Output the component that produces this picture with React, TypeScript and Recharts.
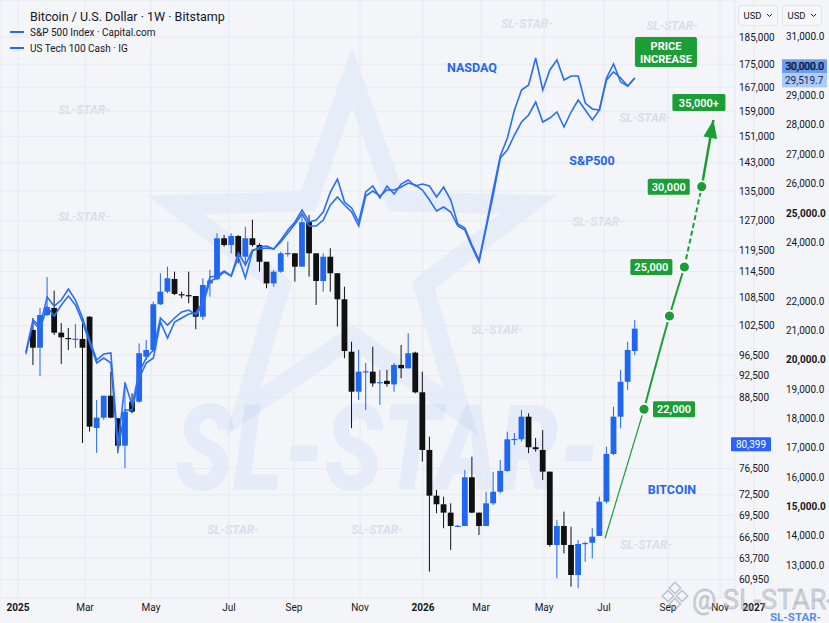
import React from "react";
import {
  ComposedChart,
  Bar,
  Line,
  XAxis,
  YAxis,
  CartesianGrid,
  ReferenceLine,
  ReferenceDot,
} from "recharts";

const FONT = "Roboto, 'Liberation Sans', Arial, sans-serif";
const BG = "#f3f5f9";
const BLUE = "#1f66f0";
const LINE_BLUE = "#2a6ef2";
const BLACK = "#111111";
const GREEN = "#1b9e36";
const TEXT = "#131722";

// ---------- Bitcoin weekly candles (USD), week 0 = first candle ----------
const btcOpen = [
  101590, 97970, 104740, 106260, 101030, 99930, 99620, 99730, 104380, 83130,
  84900, 88800, 84800, 80170, 87730, 87730, 96180, 97510, 107070, 109870,
  112760, 109300, 109100, 108900, 104380, 111750, 112690, 122550, 120880, 123120,
  118010, 122550, 120880, 116800, 111750, 114460, 118760, 118840, 115630, 126750,
  118840, 112290, 118010, 114090, 108170, 97170, 89530, 93220, 93280, 91220,
  91550, 90880, 94570, 93920, 96980, 89420, 79470, 72370, 71110, 69900,
  68000, 68020, 75150, 69900, 68020, 71250, 72960, 76130, 81180, 81220,
  85070, 79910, 79470, 76020, 65430, 68020, 65430, 61530, 65610, 65730,
  66650, 71490, 78820, 85070, 91370, 97310,
];
const btcHigh = [
  104110, 106260, 113220, 110090, 103050, 102000, 102840, 104380, 104530, 88040,
  88800, 93280, 84800, 91390, 89230, 98840, 99520, 107650, 114090, 115630,
  114460, 109870, 114460, 108900, 112920, 114860, 123800, 123370, 123800, 123370,
  125490, 127300, 121300, 116800, 114860, 119240, 121700, 118840, 129040, 128510,
  118840, 118840, 120070, 114090, 110990, 99180, 97510, 94950, 98170, 93610,
  93610, 94950, 98510, 100900, 97170, 93280, 81660, 73220, 72220, 71250,
  68150, 76280, 78390, 69900, 72960, 75990, 77860, 82490, 82270, 86250,
  85660, 81440, 82770, 76020, 68870, 70050, 67920, 66110, 65870, 67700,
  72220, 80010, 86830, 93610, 99180, 103690,
];
const btcLow = [
  94570, 92460, 104530, 100550, 94760, 97510, 97910, 80620, 82510, 78990,
  84510, 84800, 78940, 76550, 85670, 87550, 95540, 97170, 106920, 109510,
  109120, 108400, 107290, 101730, 103690, 108750, 112520, 120450, 118840, 116420,
  116420, 120450, 114460, 110630, 110990, 114220, 118010, 112140, 115630, 113290,
  106920, 109870, 109870, 102270, 95870, 83080, 88040, 86250, 90450, 87140,
  90450, 89530, 92030, 93920, 89230, 77590, 61950, 69820, 67700, 64760,
  67900, 68020, 69820, 66780, 68020, 71010, 72720, 76020, 80290, 80840,
  78940, 79200, 74740, 65200, 61120, 64310, 60080, 59890, 63220, 63670,
  66650, 71250, 78650, 83080, 89850, 96500,
];
const btcClose = [
  97970, 104740, 106480, 101030, 100070, 99830, 99780, 97970, 83350, 84900,
  88800, 84900, 80170, 85950, 85950, 96860, 97510, 107070, 109870, 112920,
  109360, 109050, 108900, 104380, 111380, 112360, 122550, 120880, 123120, 118010,
  122550, 120880, 116800, 111750, 114460, 118840, 118910, 115630, 126660, 118840,
  112290, 118010, 114090, 108170, 97310, 89530, 93280, 93340, 91070, 91310,
  90940, 94570, 93920, 96860, 89420, 79470, 72370, 71110, 69900, 68020,
  68050, 75150, 69900, 68020, 71250, 72960, 76130, 81220, 81280, 85070,
  79910, 79590, 76020, 65430, 68020, 65430, 61530, 65560, 65690, 66550,
  71490, 78820, 85070, 91370, 97510, 101860,
];

// ---------- Index lines (USD scale), week -1 .. 85 ----------
const sp500 = [
  20193, 21284, 21046, 21796, 21489, 21864, 22171, 21864, 21284, 20568,
  19887, 20057, 19887, 16921, 18284, 18284, 19375, 19887, 20057, 21284,
  20739, 21284, 21421, 21557, 21591, 21966, 22818, 22852, 23023, 22852,
  23500, 22784, 23705, 23841, 23875, 23773, 24012, 24318, 24625, 24966,
  24557, 24557, 24762, 25273, 25546, 25273, 25034, 24557, 25580, 25750,
  25580, 25784, 25784, 25886, 26023, 25955, 25784, 25443, 25068, 25205,
  25034, 24557, 24421, 23841, 23330, 24489, 25614, 26875, 27148, 27659,
  28102, 28341, 28784, 28102, 28239, 28443, 27932, 28443, 28852, 28511,
  28171, 28511, 29534, 29807, 29602, 29330, 29602,
];
const nasdaq = [
  20262, 21353, 21148, 22137, 21830, 22034, 22409, 22034, 21421, 20671,
  19989, 20193, 20228, 17091, 19205, 18455, 19580, 20057, 20330, 21421,
  21182, 21421, 21625, 21693, 21523, 21864, 22682, 22784, 22989, 22852,
  23637, 23227, 23739, 23773, 23807, 23773, 24080, 24421, 24693, 25102,
  24693, 24762, 25034, 25716, 26159, 25375, 25171, 24693, 25716, 25921,
  25512, 25921, 25648, 25989, 26125, 25921, 25989, 25921, 25546, 25886,
  25443, 24625, 24489, 23909, 23398, 24557, 25784, 26943, 27557, 28511,
  29193, 29364, 30284, 29193, 29875, 30216, 29534, 29670, 29670, 28750,
  28546, 28511, 29602, 30080, 29466, 29330, 29602,
];

// ---------- axes ----------
const xTickWeeks = [-2.12, 7.34, 16.67, 27.68, 36.86, 46.19, 55.08, 63.28, 72.18, 80.65, 89.69, 97.03, 101.84];
const xTickLabels = ["2025", "Mar", "May", "Jul", "Sep", "Nov", "2026", "Mar", "May", "Jul", "Sep", "Nov", "2027"];
const btcTicks = [
  185000, 175000, 167000, 159000, 151000, 143000, 135000, 127000, 119500, 114500,
  108500, 102500, 96500, 92500, 88500, 76500, 72500, 69500, 66500, 63700, 60950,
];
const usdTicks = [
  31000, 30000, 29000, 28000, 27000, 26000, 25000, 24000, 22000, 21000,
  20000, 19000, 18000, 17000, 16000, 15000, 14000, 13000,
];
const usdBoldTicks = [25000, 20000, 15000];
const btcLastPrice = 80399;
const usdLastValues = [30000, 29519.7];
const usdLastColors = ["#6d9cf0", "#aecaf6"];

// ---------- projection drawing ----------
const projWeeks = [80.8, 86.3, 89.9, 92.0, 94.45, 96.1];
const projValues = [66335, 86375, 104530, 115560, 136190, 156100];
const projLabels = ["", "22,000", "", "25,000", "30,000", "35,000+"];
const projSides = ["none", "right", "none", "left", "left", "top"];

// ---------- text annotations ----------
const noteWeeks = [62.0, 78.95, 90.25];
const noteValues = [173990, 143840, 73220];
const noteTexts = ["NASDAQ", "S&P500", "BITCOIN"];
const priceIncreaseAt = { w: 89.4, v: 179410 };

const candles = btcOpen.map((o, i) => ({ w: i, o, h: btcHigh[i], l: btcLow[i], c: btcClose[i] }));
const spData = sp500.map((v, i) => ({ w: i - 1, v }));
const ndData = nasdaq.map((v, i) => ({ w: i - 1, v }));
const proj = projWeeks.map((w, i) => ({ w, v: projValues[i], label: projLabels[i], side: projSides[i] }));
const seg1 = proj.slice(0, 2);
const seg2 = proj.slice(1, 4);
const seg3 = proj.slice(3, 5);
const seg4 = proj.slice(4, 6);
const projDots = proj.slice(1, 5);

const fmtInt = (v: number) => v.toLocaleString("en-US");
const fmtDec = (v: number) => v.toLocaleString("en-US", { minimumFractionDigits: 1, maximumFractionDigits: 1 });

const Candle = (props: any) => {
  const { x, y, width, height } = props;
  const d = props.payload || props;
  if (x == null || y == null || d == null || d.h == null) return null;
  const cx = x + width / 2;
  const top = Math.min(y, y + height);
  const bot = Math.max(y, y + height);
  const lh = Math.log(d.h);
  const ll = Math.log(d.l);
  const span = lh - ll || 1;
  const py = (v: number) => top + ((lh - Math.log(v)) / span) * (bot - top);
  const up = d.c >= d.o;
  const color = up ? BLUE : BLACK;
  const bt = py(Math.max(d.o, d.c));
  const bb = py(Math.min(d.o, d.c));
  return (
    <g>
      <line x1={cx} x2={cx} y1={top} y2={bot} stroke={color} strokeWidth={1} />
      <rect x={cx - 2.9} width={5.8} y={bt} height={Math.max(1.2, bb - bt)} fill={color} />
    </g>
  );
};

const XTick = (p: any) => {
  const i = xTickWeeks.indexOf(p.payload.value);
  const lbl = xTickLabels[i] ?? "";
  const bold = /^\d{4}$/.test(lbl);
  return (
    <text x={p.x} y={p.y} dy={13} textAnchor="middle" fontSize={10} fontWeight={bold ? 700 : 400} fill={TEXT} fontFamily={FONT}>
      {lbl}
    </text>
  );
};

const BtcTick = (p: any) => (
  <text x={p.x} y={p.y} dy={3.5} textAnchor="start" fontSize={10} fill={TEXT} fontFamily={FONT}>
    {fmtInt(p.payload.value)}
  </text>
);

const UsdTick = (p: any) => (
  <text
    x={p.x}
    y={p.y}
    dy={3.5}
    textAnchor="start"
    fontSize={10}
    fontWeight={usdBoldTicks.includes(p.payload.value) ? 700 : 400}
    fill={TEXT}
    fontFamily={FONT}
  >
    {fmtDec(p.payload.value)}
  </text>
);

const GreenDot = (p: any) => {
  const { cx, cy, payload, index } = p;
  if (cx == null || cy == null) return <g key={`gd${index}`} />;
  const lbl = payload?.label;
  const side = payload?.side;
  let box: any = null;
  if (lbl) {
    const w = 42;
    const h = 16;
    const bx = side === "right" ? cx + 9 : cx - 12 - w;
    box = (
      <g>
        <rect x={bx} y={cy - h / 2} width={w} height={h} rx={1.5} fill={GREEN} />
        <text x={bx + w / 2} y={cy + 4} textAnchor="middle" fontSize={11} fontWeight={600} fill="#fff" fontFamily={FONT}>
          {lbl}
        </text>
      </g>
    );
  }
  return (
    <g key={`gd${index}`}>
      {box}
      <circle cx={cx} cy={cy} r={5.5} fill={GREEN} stroke="#ffffff" strokeWidth={1.8} />
    </g>
  );
};

const Watermarks = () => {
  const small = [
    [84, 110], [84, 217], [527, 24], [672, 26], [645, 118], [598, 222],
    [497, 330], [377, 530], [233, 530], [646, 545],
  ];
  const cx = 352, cy = 262, R = 185, r = 75;
  const pts: string[] = [];
  for (let k = 0; k < 10; k++) {
    const a = -Math.PI / 2 + (k * Math.PI) / 5;
    const rad = k % 2 === 0 ? R : r;
    pts.push(`${cx + rad * Math.cos(a)},${cy + rad * Math.sin(a)}`);
  }
  return (
    <svg width={829} height={623} style={{ position: "absolute", left: 0, top: 0 }}>
      <polygon points={pts.join(" ")} fill="none" stroke="rgba(40,110,240,0.06)" strokeWidth={20} strokeLinejoin="miter" />
      <text
        x={175}
        y={490}
        fontSize={120}
        fontWeight={900}
        fontStyle="italic"
        fontFamily={FONT}
        fill="rgba(40,110,240,0.065)"
        textLength={425}
        lengthAdjust="spacingAndGlyphs"
      >
        SL-STAR-
      </text>
      {small.map(([x, y], i) => (
        <text
          key={i}
          x={x}
          y={y + 4}
          textAnchor="middle"
          fontSize={12}
          fontWeight={700}
          fontStyle="italic"
          fontFamily={FONT}
          fill="#d8dfec"
        >
          SL-STAR-
        </text>
      ))}
    </svg>
  );
};

const UsdButton = ({ left }: { left: number }) => (
  <div
    style={{
      position: "absolute",
      left,
      top: 5,
      width: 40,
      height: 21,
      border: "1px solid #e1e4ea",
      borderRadius: 4,
      boxSizing: "border-box",
      fontFamily: FONT,
      fontSize: 9.5,
      color: TEXT,
      display: "flex",
      alignItems: "center",
      justifyContent: "center",
      gap: 4,
      background: "#f6f7fa",
    }}
  >
    <span>USD</span>
    <svg width={7} height={5}>
      <path d="M1,1 L3.5,3.5 L6,1" fill="none" stroke={TEXT} strokeWidth={1} />
    </svg>
  </div>
);

export default function App() {
  let prevArrow: { x: number; y: number } | null = null;
  const ArrowDot = (p: any) => {
    const { cx, cy, index } = p;
    if (cx == null || cy == null) return <g key={`ad${index}`} />;
    if (index === 0) {
      prevArrow = { x: cx, y: cy };
      return <g key={`ad${index}`} />;
    }
    const px = prevArrow ? prevArrow.x : cx;
    const py = prevArrow ? prevArrow.y : cy + 10;
    const dx = cx - px;
    const dy = cy - py;
    const len = Math.hypot(dx, dy) || 1;
    const ux = dx / len;
    const uy = dy / len;
    const nx = -uy;
    const ny = ux;
    const L = 18;
    const hw = 7;
    const bx = cx - ux * L;
    const by = cy - uy * L;
    const pts = `${cx},${cy} ${bx + nx * hw},${by + ny * hw} ${bx - nx * hw},${by - ny * hw}`;
    const lbl = p.payload?.label;
    return (
      <g key={`ad${index}`}>
        <polygon points={pts} fill={GREEN} />
        {lbl ? (
          <g>
            <rect x={cx - 41} y={cy - 26} width={53} height={17} rx={1.5} fill={GREEN} />
            <text x={cx - 14.5} y={cy - 13.5} textAnchor="middle" fontSize={11} fontWeight={600} fill="#fff" fontFamily={FONT}>
              {lbl}
            </text>
          </g>
        ) : null}
      </g>
    );
  };

  const PriceTag = (props: any) => {
    const vb = props.viewBox || {};
    const x = (vb.x ?? 0) + (vb.width ?? 0) - 4;
    const y = vb.y ?? 0;
    return (
      <g>
        <rect x={x} y={y - 7} width={40} height={14} rx={1} fill="#2962ff" />
        <text x={x + 20} y={y + 3.5} textAnchor="middle" fontSize={10} fill="#fff" fontFamily={FONT}>
          {fmtInt(btcLastPrice)}
        </text>
      </g>
    );
  };

  const makeUsdTag = (i: number) => (props: any) => {
    const vb = props.viewBox || {};
    const x = (vb.x ?? 0) + (vb.width ?? 0) + 47;
    const y = vb.y ?? 0;
    return (
      <g>
        <rect x={x} y={y - 7} width={45} height={14} fill={usdLastColors[i]} />
        <text x={x + 3} y={y + 3.5} textAnchor="start" fontSize={10} fill="#10275a" fontFamily={FONT}>
          {fmtDec(usdLastValues[i])}
        </text>
      </g>
    );
  };

  const noteShape = (txt: string) => (p: any) => (
    <text x={p.cx} y={p.cy + 4.5} textAnchor="middle" fontSize={12.5} fontWeight={700} fill={BLUE} fontFamily={FONT}>
      {txt}
    </text>
  );

  const priceIncreaseShape = (p: any) => (
    <g>
      <rect x={p.cx - 31} y={p.cy - 15} width={62} height={30} rx={2} fill={GREEN} />
      <text x={p.cx} y={p.cy - 2} textAnchor="middle" fontSize={11} fontWeight={700} fill="#fff" fontFamily={FONT}>
        PRICE
      </text>
      <text x={p.cx} y={p.cy + 11} textAnchor="middle" fontSize={11} fontWeight={700} fill="#fff" fontFamily={FONT}>
        INCREASE
      </text>
    </g>
  );

  return (
    <div style={{ position: "absolute", left: 0, top: 0, width: 829, height: 623, background: BG, overflow: "hidden" }}>
      <Watermarks />
      <div style={{ position: "absolute", left: 0, top: 0 }}>
        <ComposedChart width={829} height={623} data={candles} margin={{ top: 0, right: 0, bottom: 0, left: 0 }}>
          <CartesianGrid stroke="#e6e9ef" strokeWidth={1} yAxisId="btc" />
          <XAxis
            dataKey="w"
            type="number"
            domain={[-4.66, 99.15]}
            allowDataOverflow
            ticks={xTickWeeks}
            interval={0}
            tickLine={false}
            axisLine={false}
            tickSize={0}
            tickMargin={0}
            height={25}
            tick={XTick}
          />
          <YAxis
            yAxisId="btc"
            orientation="right"
            type="number"
            scale="log"
            domain={[58700, 199560]}
            allowDataOverflow
            ticks={btcTicks}
            interval={0}
            tickLine={false}
            axisLine={false}
            tickSize={0}
            tickMargin={4}
            width={47}
            tick={BtcTick}
          />
          <YAxis
            yAxisId="usd"
            orientation="right"
            type="number"
            domain={[11876, 32261]}
            allowDataOverflow
            ticks={usdTicks}
            interval={0}
            tickLine={false}
            axisLine={false}
            tickSize={0}
            tickMargin={4}
            width={47}
            tick={UsdTick}
          />
          <Bar
            yAxisId="btc"
            dataKey={(d: any) => [d.l, d.h]}
            barSize={5}
            shape={Candle}
            isAnimationActive={false}
          />
          <Line
            yAxisId="usd"
            data={spData}
            dataKey="v"
            type="linear"
            stroke={LINE_BLUE}
            strokeWidth={1.6}
            dot={false}
            activeDot={false}
            isAnimationActive={false}
          />
          <Line
            yAxisId="usd"
            data={ndData}
            dataKey="v"
            type="linear"
            stroke={LINE_BLUE}
            strokeWidth={1.6}
            dot={false}
            activeDot={false}
            isAnimationActive={false}
          />
          <Line yAxisId="btc" data={seg1} dataKey="v" stroke={GREEN} strokeWidth={1.2} dot={false} activeDot={false} isAnimationActive={false} />
          <Line yAxisId="btc" data={seg2} dataKey="v" type="monotone" stroke={GREEN} strokeWidth={2} dot={false} activeDot={false} isAnimationActive={false} />
          <Line yAxisId="btc" data={seg3} dataKey="v" stroke={GREEN} strokeWidth={2} strokeDasharray="5 3" dot={false} activeDot={false} isAnimationActive={false} />
          <Line yAxisId="btc" data={seg4} dataKey="v" stroke={GREEN} strokeWidth={2.5} dot={ArrowDot} activeDot={false} isAnimationActive={false} />
          <Line yAxisId="btc" data={projDots} dataKey="v" stroke="none" dot={GreenDot} activeDot={false} isAnimationActive={false} />
          {noteTexts.map((t, i) => (
            <ReferenceDot key={t} yAxisId="btc" x={noteWeeks[i]} y={noteValues[i]} r={0} shape={noteShape(t)} />
          ))}
          <ReferenceDot yAxisId="btc" x={priceIncreaseAt.w} y={priceIncreaseAt.v} r={0} shape={priceIncreaseShape} />
          <ReferenceLine yAxisId="btc" y={btcLastPrice} stroke="none" label={PriceTag} />
          <ReferenceLine yAxisId="usd" y={usdLastValues[0]} stroke="none" label={makeUsdTag(0)} />
          <ReferenceLine yAxisId="usd" y={usdLastValues[1]} stroke="none" label={makeUsdTag(1)} />
        </ComposedChart>
      </div>
      {/* legend */}
      <div style={{ position: "absolute", left: 30, top: 9, fontFamily: FONT, fontSize: 12.5, color: TEXT, whiteSpace: "nowrap" }}>
        Bitcoin / U.S. Dollar · 1W · Bitstamp
      </div>
      {["S&P 500 Index · Capital.com", "US Tech 100 Cash · IG"].map((t, i) => (
        <div
          key={t}
          style={{ position: "absolute", left: 10, top: 26 + i * 16, height: 12, display: "flex", alignItems: "center", fontFamily: FONT, fontSize: 10, color: TEXT, whiteSpace: "nowrap" }}
        >
          <span style={{ display: "inline-block", width: 14, height: 2, background: "#2962ff", marginRight: 6 }} />
          {t}
        </div>
      ))}
      <UsdButton left={738} />
      <UsdButton left={782} />
      {/* bottom-right watermark */}
      <svg width={829} height={623} style={{ position: "absolute", left: 0, top: 0, pointerEvents: "none" }}>
        <g fill="none" stroke="rgba(150,155,165,0.55)" strokeWidth={1.5}>
          <rect x={671} y={584} width={8} height={8} transform="rotate(45 675 588)" />
          <rect x={664} y={592} width={8} height={8} transform="rotate(45 668 596)" />
          <rect x={678} y={592} width={8} height={8} transform="rotate(45 682 596)" />
          <rect x={671} y={600} width={8} height={8} transform="rotate(45 675 604)" />
        </g>
        <text x={692} y={609} fontSize={27} fontFamily={FONT} fill="rgba(150,155,165,0.35)" stroke="rgba(150,155,165,0.45)" strokeWidth={0.8}>
          @ SL-STAR-
        </text>
        <text x={770} y={621} fontSize={11.5} fontWeight={700} fontFamily={FONT} fill="#5a8cf0">
          SL-STAR-
        </text>
      </svg>
    </div>
  );
}
